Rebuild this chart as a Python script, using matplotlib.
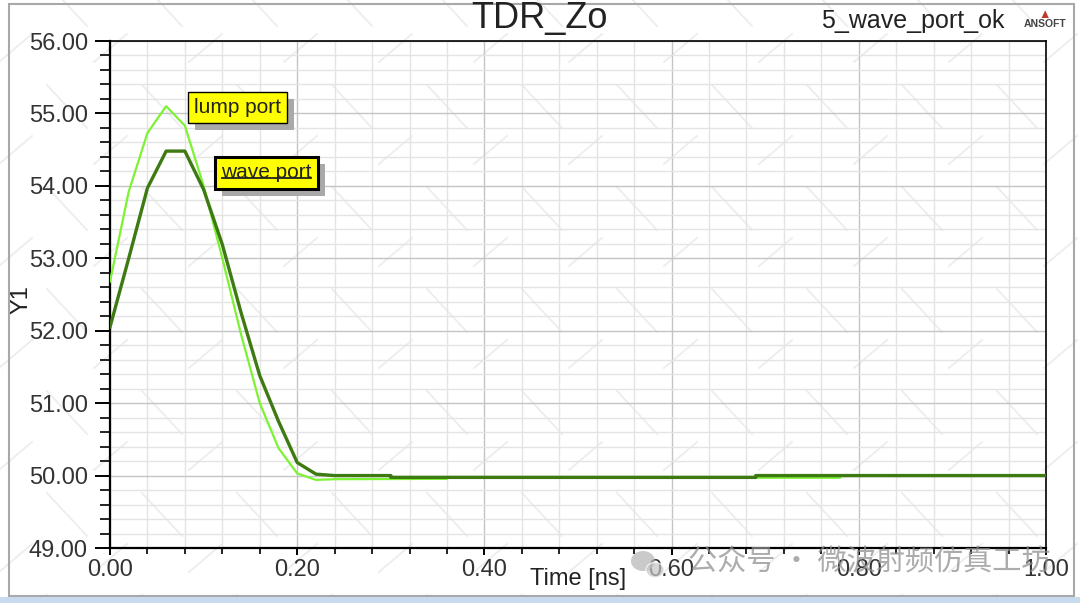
import numpy as np
import matplotlib
matplotlib.use("Agg")
import matplotlib.pyplot as plt
from matplotlib.patches import Rectangle, Ellipse
from matplotlib.lines import Line2D

# values (time in ns, impedance in ohm)
TIME_LUMP = [0.00, 0.02, 0.04, 0.06, 0.08, 0.10, 0.12, 0.14, 0.16, 0.18, 0.20,
             0.22, 0.24, 0.36, 0.36, 0.78, 0.78, 1.00]
Z_LUMP = [52.68, 53.92, 54.73, 55.10, 54.83, 54.00, 53.00, 51.95, 51.00, 50.38, 50.03,
          49.94, 49.95, 49.955, 49.97, 49.97, 49.995, 49.995]

TIME_WAVE = [0.00, 0.02, 0.04, 0.06, 0.08, 0.10, 0.12, 0.14, 0.16, 0.18, 0.20,
             0.22, 0.24, 0.30, 0.30, 0.69, 0.69, 1.00]
Z_WAVE = [52.05, 53.00, 53.97, 54.48, 54.48, 53.95, 53.19, 52.25, 51.38, 50.75, 50.18,
          50.02, 50.00, 50.00, 49.975, 49.975, 50.00, 50.00]

X_TICKS = [0.0, 0.2, 0.4, 0.6, 0.8, 1.0]
Y_TICKS = [49, 50, 51, 52, 53, 54, 55, 56]

TITLE = "TDR_Zo"
DESIGN = "5_wave_port_ok"
WATERMARK = "公众号 · 微波射频仿真工坊"

plt.rcParams['font.family'] = ['Liberation Sans', 'DejaVu Sans']

fig = plt.figure(figsize=(10.8, 6.03), dpi=100)
W, H = 1080, 603


def px(x, y):
    # pixel position (from top-left) -> figure fraction
    return x / W, 1 - y / H


# faint diagonal background texture of the report window
for i in range(-7, 6):
    for j in range(-2, 5):
        x0, y0 = 617 + 95 * i, 187 + 102 * j
        for (xa, ya), (xb, yb) in [((x0, y0), (x0 + 40, y0 + 43)),
                                   ((x0 + 47, y0 + 79), (x0 + 80, y0 + 51))]:
            fig.lines.append(Line2D([xa / W, xb / W], [1 - ya / H, 1 - yb / H],
                                    transform=fig.transFigure, color='#ededed',
                                    linewidth=1.3, zorder=-5))

# window frame and the blue strip at the bottom
fig.patches.append(Rectangle((9 / W, 7 / H), 1065 / W, 592 / H, transform=fig.transFigure,
                             fill=False, edgecolor='#a8a8a8', linewidth=1.5, zorder=-4))
fig.patches.append(Rectangle((0, 0), 1, 6 / H, transform=fig.transFigure,
                             facecolor='#c9d9ee', edgecolor='none', zorder=-4))

ax = fig.add_axes([110 / W, 55 / H, 936 / W, 507 / H])
ax.set_facecolor('none')

ax.plot(TIME_LUMP, Z_LUMP, color='#7df233', linewidth=1.6, zorder=3)
ax.plot(TIME_WAVE, Z_WAVE, color='#3d7a12', linewidth=2.4, zorder=4)

ax.set_xlim(0, 1)
ax.set_ylim(49, 56)
ax.set_xticks(X_TICKS)
ax.set_yticks(Y_TICKS)
ax.set_xticklabels([f"{v:.2f}" for v in X_TICKS])
ax.set_yticklabels([f"{v:.2f}" for v in Y_TICKS])
ax.set_xticks(np.arange(0, 1.0001, 0.04), minor=True)
ax.set_yticks(np.arange(49, 56.0001, 0.2), minor=True)

ax.grid(which='major', color='#c4c4c4', linewidth=1.0, zorder=0)
ax.grid(which='minor', color='#e4e4e4', linewidth=1.0, zorder=0)
ax.set_axisbelow(True)

ax.tick_params(axis='y', which='major', length=11, width=1.4, labelsize=17,
               pad=5, labelcolor='#333333')
ax.tick_params(axis='y', which='minor', length=7, width=1.2)
ax.tick_params(axis='x', which='major', length=5, width=1.4, labelsize=17,
               pad=3, labelcolor='#333333')
ax.tick_params(axis='x', which='minor', length=4, width=1.2)

for side in ['left', 'bottom']:
    ax.spines[side].set_linewidth(1.6)
for side in ['top', 'right']:
    ax.spines[side].set_linewidth(1.2)

ax.set_xlabel('Time [ns]', fontsize=17, color='#222222', va='center')
ax.xaxis.set_label_coords(0.5, -31 / 507)
ax.set_ylabel('Y1', fontsize=17, color='#222222', va='center')
ax.yaxis.set_label_coords(-88 / 936, 0.49)

# titles at the top
fig.text(*px(540, 28), TITLE, fontsize=26, ha='center', va='baseline', color='#222222')
fig.text(*px(1005, 28), DESIGN, fontsize=18, ha='right', va='baseline', color='#222222')
fig.text(*px(1045, 27), "ANSOFT", fontsize=7.5, ha='center', va='baseline',
         fontweight='bold', color='#444444')
fig.text(*px(1045, 18), "▲", fontsize=9, ha='center', va='baseline', color='#c0392b')

# trace labels: yellow boxes, the selected one underlined
lump_txt = ax.text(0.136, 55.08, 'lump port', fontsize=15, ha='center', va='center',
                   color='#222222', zorder=6,
                   bbox=dict(boxstyle='square,pad=0.3', facecolor='#ffff00',
                             edgecolor='black', linewidth=1.0))
wave_txt = ax.text(0.167, 54.18, 'wave port', fontsize=15, ha='center', va='center',
                   color='#222222', zorder=6,
                   bbox=dict(boxstyle='square,pad=0.3', facecolor='#ffff00',
                             edgecolor='black', linewidth=2.2))

fig.canvas.draw()
for txt in [lump_txt, wave_txt]:
    bb = txt.get_bbox_patch().get_window_extent()
    # grey drop shadow behind each box
    ax.add_artist(Rectangle(((bb.x0 + 7) / W, (bb.y0 - 7) / H), bb.width / W, bb.height / H,
                            transform=fig.transFigure, facecolor='#a9a9a9',
                            edgecolor='none', zorder=5))
tb = wave_txt.get_window_extent()
fig.lines.append(Line2D([(tb.x0 + 1) / W, (tb.x1 - 1) / W], [(tb.y0 + 4) / H, (tb.y0 + 4) / H],
                        transform=fig.transFigure, color='#222222', linewidth=1.3, zorder=10))

# faint watermark with its chat icon
fig.patches.append(Ellipse(px(643, 561), 24 / W, 20 / H, transform=fig.transFigure,
                           facecolor='#b4b4b4', edgecolor='none', alpha=0.7, zorder=19))
fig.patches.append(Ellipse(px(655, 570), 18 / W, 15 / H, transform=fig.transFigure,
                           facecolor='#c4c4c4', edgecolor='white', alpha=0.7, zorder=19))
fig.text(*px(688, 563), WATERMARK, fontsize=21, ha='left', va='center',
         color='#909090', alpha=0.75, family=['Noto Sans CJK SC', 'DejaVu Sans'], zorder=20)

fig.savefig('out.png', dpi=100)
